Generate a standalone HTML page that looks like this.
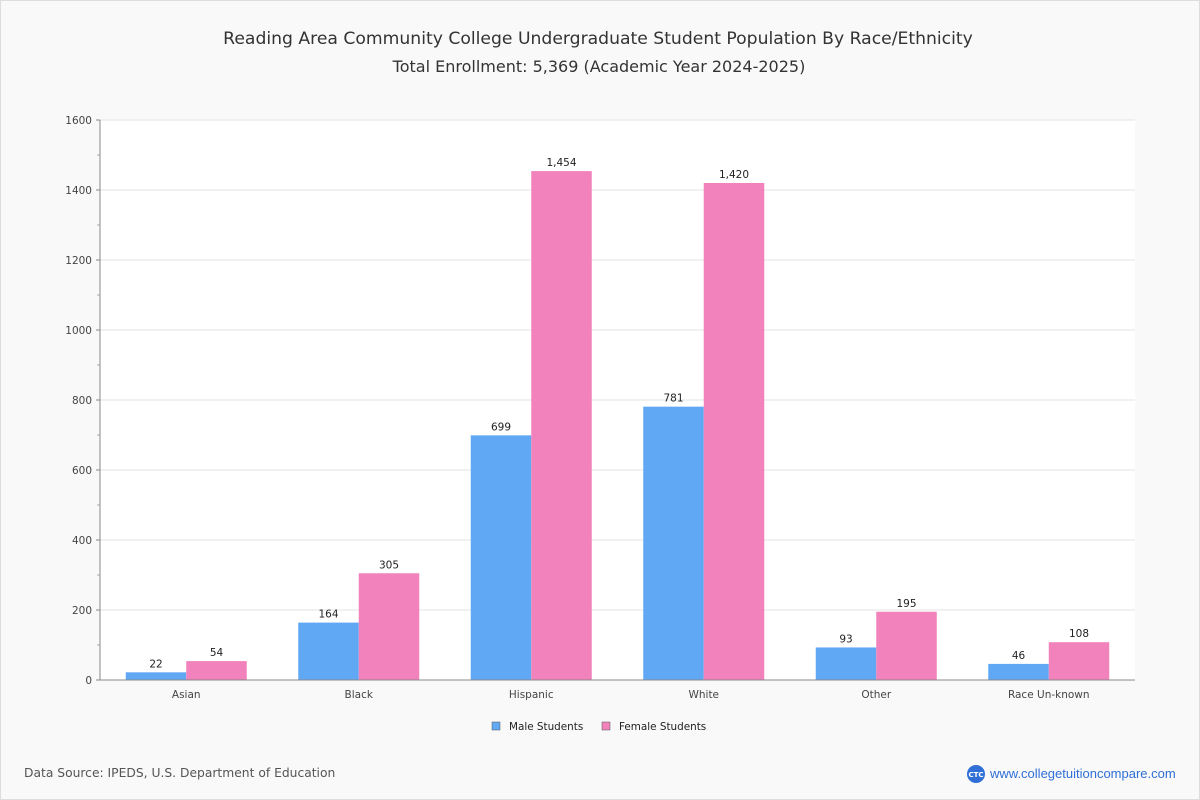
<!DOCTYPE html>
<html><head><meta charset="utf-8"><style>
body{margin:0;background:#f9f9f9;}
svg{display:block;font-family:"DejaVu Sans","Liberation Sans",sans-serif;}
</style></head><body>
<svg id="c" width="1200" height="800">
<rect x="0.5" y="0.5" width="1199" height="799" fill="#f9f9f9" stroke="#ddd"/>
<text x="598" y="44" text-anchor="middle" font-size="17.2" fill="#333">Reading Area Community College Undergraduate Student Population By Race/Ethnicity</text>
<text x="599" y="72" text-anchor="middle" font-size="16" fill="#333">Total Enrollment: 5,369 (Academic Year 2024-2025)</text>
<rect x="100" y="120" width="1035" height="560" fill="#fff"/>
<g id="grid"></g><g id="bars"></g><g id="axes"></g>
<g>
<rect x="492" y="722" width="8" height="8" fill="#61a8f4" stroke="#555" stroke-width="0.5"/>
<text x="509" y="730" font-size="10.4" fill="#222">Male Students</text>
<rect x="602" y="722" width="8" height="8" fill="#f282bb" stroke="#555" stroke-width="0.5"/>
<text x="619" y="730" font-size="10.4" fill="#222">Female Students</text>
</g>
<text x="24" y="777" font-size="12.3" fill="#555">Data Source: IPEDS, U.S. Department of Education</text>
<circle cx="976" cy="774" r="9" fill="#2f6fd6"/>
<text x="976" y="777" text-anchor="middle" font-size="7" fill="#fff" font-weight="bold">CTC</text>
<text x="990" y="778" font-size="13" fill="#2f6fd6" font-family="Liberation Sans, sans-serif">www.collegetuitioncompare.com</text>
</svg>
<script>
const categories=["Asian","Black","Hispanic","White","Other","Race Un-known"];
const maleValues=[22,164,699,781,93,46];
const femaleValues=[54,305,1454,1420,195,108];
const yTicks=[0,200,400,600,800,1000,1200,1400,1600];
const NS="http://www.w3.org/2000/svg";
const X0=100,X1=1135,Y0=680,Y1=120,YMAX=1600;
const y=v=>Y0-(v/YMAX)*(Y0-Y1);
const gw=(X1-X0)/categories.length;
const xc=i=>X0+gw*(i+0.5);
function mk(p,t,a){const e=document.createElementNS(NS,t);for(const k in a)e.setAttribute(k,a[k]);p.appendChild(e);return e;}
const grid=document.getElementById('grid'),bars=document.getElementById('bars'),axes=document.getElementById('axes');
yTicks.forEach(v=>{
 if(v>0){const l=mk(grid,'line',{x1:X0,x2:X1,y1:y(v),y2:y(v),stroke:'#e3e3e3'});
 
 }
 const t=mk(axes,'line',{x1:X0-4,x2:X0,y1:y(v),y2:y(v),stroke:'#888'});
 
 
 const tx=mk(axes,'text',{x:X0-8,y:y(v)+4,'text-anchor':'end','font-size':10.5,fill:'#444'});
 tx.textContent=v;
 
 
});
for(let i=0;i<yTicks.length-1;i++){const m=(yTicks[i]+yTicks[i+1])/2;
 const t=mk(axes,'line',{x1:X0-3,x2:X0,y1:y(m),y2:y(m),stroke:'#aaa'});
 
 }
const bw=60.5;
const fmt=v=>v.toLocaleString('en-US');
categories.forEach((c,i)=>{
 [[maleValues[i],'#61a8f4',-bw,'male'],[femaleValues[i],'#f282bb',0,'female']].forEach(([v,col,off,s])=>{
  const r=mk(bars,'rect',{x:xc(i)+off,y:y(v),width:bw,height:Y0-y(v),fill:col});
  
  
  const t=mk(bars,'text',{x:xc(i)+off+bw/2,y:y(v)-5,'text-anchor':'middle','font-size':10.5,fill:'#222'});
  t.textContent=fmt(v);
  
  
 });
 const lt=mk(axes,'text',{x:xc(i),y:698,'text-anchor':'middle','font-size':10.5,fill:'#444'});
 lt.textContent=c;
 
 
});
const ya=mk(axes,'line',{x1:X0,x2:X0,y1:Y1,y2:Y0,stroke:'#888'});


const xa=mk(axes,'line',{x1:X0,x2:X1,y1:Y0,y2:Y0,stroke:'#888'});


</script>
</body></html>
